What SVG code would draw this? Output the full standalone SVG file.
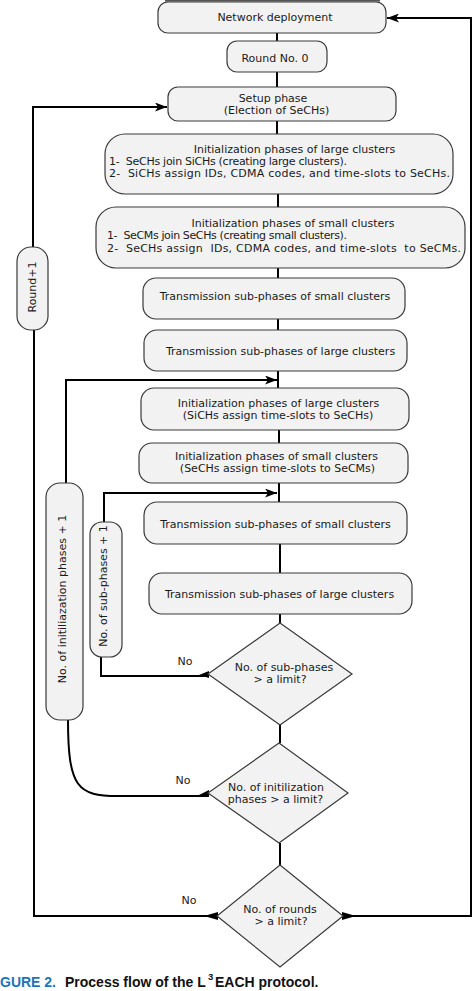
<svg xmlns="http://www.w3.org/2000/svg" width="474" height="991" viewBox="0 0 474 991">
<style>
.box{fill:#f2f2f2;stroke:#3a3a3a;stroke-width:1.2}
.t{font-family:"DejaVu Sans",Verdana,sans-serif;font-size:11px;fill:#1a1a1a}
.m{text-anchor:middle}
.c{fill:none;stroke:#000;stroke-width:2}
.cap{font-family:"Liberation Sans",Arial,sans-serif;font-size:14px;font-weight:bold}
.sup{font-family:"Liberation Sans",Arial,sans-serif;font-size:9.5px;font-weight:bold}
</style>
<defs>
<marker id="arr" markerUnits="userSpaceOnUse" markerWidth="12" markerHeight="9" refX="12" refY="4.5" orient="auto">
<path d="M0,0 L12,4.5 L0,9 L3,4.5 z" fill="#000"/>
</marker>
</defs>
<rect x="165" y="0" width="215" height="1.6" fill="#555"/>
<g id="connectors">
<path class="c" d="M277 33V41M277 72V87M277 121V134M278 194V207M278 268V278M278 319V330M278 371V388M279 430V443M279 483V502M280 544V573M280 614V623M280 725V743M280 843V865"/>
<path class="c" d="M33 247V107H167" marker-end="url(#arr)"/>
<path class="c" d="M217 916H34V330"/>
<path class="c" d="M343 916H471V18H387" marker-end="url(#arr)"/>
<path class="c" d="M66 483V380H277" marker-end="url(#arr)"/>
<path class="c" d="M68 720C68 788 78 796 118 796H208"/>
<path class="c" d="M104 522V493H277" marker-end="url(#arr)"/>
<path class="c" d="M101 657V676H208"/>
<polygon points="209,671 209,678 199,675" fill="#000"/>
<polygon points="209,790 209,797 199,795" fill="#000"/>
<polygon points="218,912 218,920 204,916" fill="#000"/>
<polygon points="342,912 342,920 356,916" fill="#000"/>
</g>
<g id="network-deployment"><rect class="box" x="158" y="2" width="228" height="31" rx="10"/><text class="t m" x="275" y="21">Network deployment</text></g>
<g id="round-0"><rect class="box" x="227" y="41" width="100" height="31" rx="10"/><text class="t m" x="275" y="62">Round No. 0</text></g>
<g id="setup-phase"><rect class="box" x="168" y="87" width="228" height="34" rx="10"/><text class="t m" x="273" y="102">Setup phase</text><text class="t m" x="276.5" y="114">(Election of SeCHs)</text></g>
<g id="init-large-1"><rect class="box" x="105" y="134" width="348" height="60" rx="20"/><text class="t m" x="294.5" y="153">Initialization phases of large clusters</text><text class="t" x="109" y="164.5" xml:space="preserve" textLength="238">1-  SeCHs join SiCHs (creating large clusters).</text><text class="t" x="109" y="176.5" xml:space="preserve" textLength="341">2-  SiCHs assign IDs, CDMA codes, and time-slots to SeCHs.</text></g>
<g id="init-small-1"><rect class="box" x="96" y="207" width="369" height="61" rx="20"/><text class="t m" x="293" y="227">Initialization phases of small clusters</text><text class="t" x="107" y="239" xml:space="preserve" textLength="240">1-  SeCMs join SeCHs (creating small clusters).</text><text class="t" x="107" y="251.5" xml:space="preserve" textLength="354">2-  SeCHs assign  IDs, CDMA codes, and time-slots  to SeCMs.</text></g>
<g id="trans-small-1"><rect class="box" x="143" y="278" width="262" height="41" rx="13"/><text class="t m" x="275" y="300">Transmission sub-phases of small clusters</text></g>
<g id="trans-large-1"><rect class="box" x="144" y="330" width="263" height="41" rx="13"/><text class="t m" x="280.5" y="355">Transmission sub-phases of large clusters</text></g>
<g id="init-large-2"><rect class="box" x="141" y="388" width="268" height="42" rx="13"/><text class="t m" x="278.5" y="407">Initialization phases of large clusters</text><text class="t m" x="278" y="419">(SiCHs assign time-slots to SeCHs)</text></g>
<g id="init-small-2"><rect class="box" x="139" y="443" width="269" height="40" rx="13"/><text class="t m" x="276.5" y="460">Initialization phases of small clusters</text><text class="t m" x="277.5" y="472">(SeCHs assign time-slots to SeCMs)</text></g>
<g id="trans-small-2"><rect class="box" x="144" y="502" width="263" height="42" rx="13"/><text class="t m" x="275.5" y="528">Transmission sub-phases of small clusters</text></g>
<g id="trans-large-2"><rect class="box" x="149" y="573" width="263" height="41" rx="13"/><text class="t m" x="279.5" y="598">Transmission sub-phases of large clusters</text></g>
<g id="dec-subphases"><polygon class="box" points="280,623 352,674 280,725 208,674"/><text class="t m" x="284" y="671">No. of sub-phases</text><text class="t m" x="280" y="683">&gt; a limit?</text><text class="t m" x="185" y="665">No</text></g>
<g id="dec-init"><polygon class="box" points="279,743 348,793 279,843 208,793"/><text class="t m" x="276" y="791">No. of initilization</text><text class="t m" x="275.5" y="803">phases &gt; a limit?</text><text class="t m" x="183" y="784">No</text></g>
<g id="dec-rounds"><polygon class="box" points="280,865 343,916 280,967 217,916"/><text class="t m" x="280" y="913">No. of rounds</text><text class="t m" x="281" y="925">&gt; a limit?</text><text class="t m" x="189" y="904">No</text></g>
<g id="round-plus-1"><rect class="box" x="17" y="247" width="31" height="83" rx="14"/><text class="t m" transform="translate(36,287) rotate(-90)">Round+1</text></g>
<g id="init-phases-plus-1"><rect class="box" x="46" y="483" width="37" height="237" rx="14"/><text class="t m" transform="translate(66,599) rotate(-90)">No. of initiliazation phases + 1</text></g>
<g id="sub-phases-plus-1"><rect class="box" x="90" y="522" width="32" height="135" rx="12"/><text class="t m" transform="translate(107,586) rotate(-90)">No. of sub-phases + 1</text></g>
<g id="caption"><text class="cap" x="0" y="987" fill="#1f74b8">GURE 2.</text><text class="cap" x="65" y="987" fill="#111">Process flow of the L</text><text class="sup" x="208" y="980" fill="#111">3</text><text class="cap" x="215" y="987" fill="#111">EACH protocol.</text></g>
</svg>
